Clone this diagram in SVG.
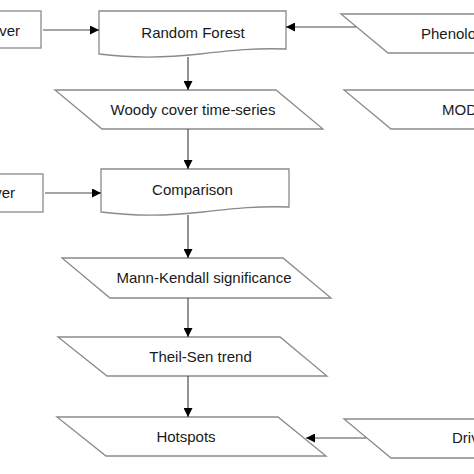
<svg xmlns="http://www.w3.org/2000/svg" width="474" height="474" viewBox="0 0 474 474">
<style>
.shape{fill:#fff;stroke:#8a8a8a;stroke-width:1.3}
.lbl{font-family:"Liberation Sans",Arial,sans-serif;font-size:15px;fill:#1a1a1a}
.mid{text-anchor:middle}
.end{text-anchor:end}
.conn{stroke:#4a4a4a;stroke-width:1.2;fill:none}
</style>
<defs>
<marker id="ah" viewBox="0 0 10 10" refX="10" refY="5" markerWidth="9" markerHeight="9" markerUnits="userSpaceOnUse" orient="auto">
<path d="M0,0 L10,5 L0,10 Z" fill="#000"/>
</marker>
</defs>
<rect width="474" height="474" fill="#fff"/>
<g id="cover1">
<rect class="shape" x="-10" y="11" width="51" height="37"/>
<text class="lbl end" x="20" y="36">cover</text>
</g>
<g id="random-forest">
<path class="shape" d="M99,11 H286 V49 C255,48 235,50 200,54 C165,58 130,58 99,54 Z"/>
<text class="lbl mid" x="193" y="38">Random Forest</text>
</g>
<g id="phenology">
<path class="shape" d="M341,14 H490 L537,53 H388 Z"/>
<text class="lbl" x="421" y="39">Phenology</text>
</g>
<g id="woody">
<path class="shape" d="M55,90 H276 L323,129 H102 Z"/>
<text class="lbl mid" x="193" y="115">Woody cover time-series</text>
</g>
<g id="modis">
<path class="shape" d="M344,90 H500 L547,129 H391 Z"/>
<text class="lbl" x="442" y="115">MODIS</text>
</g>
<g id="cover2">
<rect class="shape" x="-10" y="174" width="53" height="38"/>
<text class="lbl end" x="15" y="198">cover</text>
</g>
<g id="comparison">
<path class="shape" d="M101,169 H289 V207 C258,206 238,208 203,212 C168,216 132,216 101,212 Z"/>
<text class="lbl mid" x="192.5" y="195">Comparison</text>
</g>
<g id="mann-kendall">
<path class="shape" d="M62,258 H283 L331,298 H110 Z"/>
<text class="lbl mid" x="204" y="283">Mann-Kendall significance</text>
</g>
<g id="theil-sen">
<path class="shape" d="M58,337 H280 L327,376 H107 Z"/>
<text class="lbl mid" x="200.5" y="362">Theil-Sen trend</text>
</g>
<g id="hotspots">
<path class="shape" d="M57,417 H278 L326,456 H106 Z"/>
<text class="lbl mid" x="186" y="442">Hotspots</text>
</g>
<g id="drivers">
<path class="shape" d="M344,419 H500 L547,458 H391 Z"/>
<text class="lbl" x="452" y="443">Drivers</text>
</g>
<g id="connectors">
<line class="conn" x1="43" y1="30" x2="99" y2="30" marker-end="url(#ah)"/>
<line class="conn" x1="356" y1="27" x2="286" y2="27" marker-end="url(#ah)"/>
<line class="conn" x1="188" y1="57" x2="188" y2="90" marker-end="url(#ah)"/>
<line class="conn" x1="188" y1="129" x2="188" y2="169" marker-end="url(#ah)"/>
<line class="conn" x1="45" y1="193" x2="101" y2="193" marker-end="url(#ah)"/>
<line class="conn" x1="188" y1="215" x2="188" y2="258" marker-end="url(#ah)"/>
<line class="conn" x1="188" y1="298" x2="188" y2="337" marker-end="url(#ah)"/>
<line class="conn" x1="188" y1="376" x2="188" y2="417" marker-end="url(#ah)"/>
<line class="conn" x1="366" y1="438" x2="306" y2="438" marker-end="url(#ah)"/>
</g>
</svg>
